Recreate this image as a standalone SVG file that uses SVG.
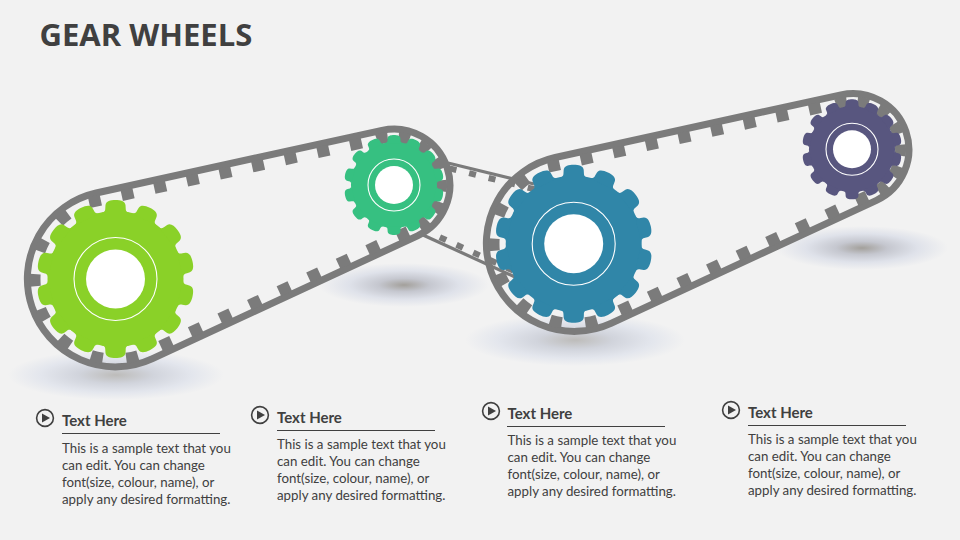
<svg xmlns="http://www.w3.org/2000/svg" xmlns:xlink="http://www.w3.org/1999/xlink" width="960" height="540" viewBox="0 0 960 540">
<style>
.title{font:700 31px "Open Sans",sans-serif;fill:#404040}
.h{font:700 15px "Lato","Open Sans",sans-serif;fill:#404040}
.b{font:400 13.3px "Lato","Open Sans",sans-serif;fill:#404040}
.rule{stroke:#404040;stroke-width:1;fill:none}
.ico{fill:none;stroke:#404040;stroke-width:1.6}
.tri{fill:#404040}
.band{fill:none;stroke:#7b7b7b;stroke-width:7}
.thin{fill:none;stroke:#7b7b7b;stroke-width:3.2}
.tooth{fill:none;stroke:#7b7b7b;stroke-width:11}
.tooth-s{fill:none;stroke:#7b7b7b;stroke-width:6}
.hole{fill:#fff}
.ring{fill:none;stroke:#fff;stroke-width:1.1}
</style>
<defs>
<radialGradient id="sh"><stop offset="0" stop-color="#a3a09b"/><stop offset=".3" stop-color="#c5c7cf"/><stop offset=".65" stop-color="#dfe2ea"/><stop offset="1" stop-color="#f2f2f2"/></radialGradient>
<radialGradient id="sh2"><stop offset="0" stop-color="#bdbcba"/><stop offset=".35" stop-color="#d1d4dc"/><stop offset=".7" stop-color="#e3e6ed"/><stop offset="1" stop-color="#f2f2f2"/></radialGradient>
<path id="t" d="M-14 -66C-11 -67 -10.2 -68 -10.2 -71L-10 -74C-9.5 -78 -5 -79 0 -79C5 -79 9.5 -78 10 -74L10.2 -71C10.2 -68 11 -67 14 -66Z"/>
<g id="gear">
<circle r="68"/>
<use href="#t"/>
<use href="#t" transform="rotate(25.714)"/>
<use href="#t" transform="rotate(51.429)"/>
<use href="#t" transform="rotate(77.143)"/>
<use href="#t" transform="rotate(102.857)"/>
<use href="#t" transform="rotate(128.571)"/>
<use href="#t" transform="rotate(154.286)"/>
<use href="#t" transform="rotate(180)"/>
<use href="#t" transform="rotate(205.714)"/>
<use href="#t" transform="rotate(231.429)"/>
<use href="#t" transform="rotate(257.143)"/>
<use href="#t" transform="rotate(282.857)"/>
<use href="#t" transform="rotate(308.571)"/>
<use href="#t" transform="rotate(334.286)"/>
</g>
<g id="belt">
<path class="band" d="M96.2 193L382 130.3A56 56 0 0 1 417.5 235.8L152 358.9A88 88 0 1 1 96.2 193Z"/>
<path class="tooth" stroke-dasharray="12 21.4" d="M89.1 202.7L362 142.9"/>
<path class="tooth" stroke-dasharray="12 20.6" d="M160.6 346L408 231.5"/>
<path class="tooth" stroke-dasharray="12 23.4" d="M137.9 355.7A80 80 0 0 1 68.7 213.8"/>
<path class="tooth" stroke-dasharray="11 10.78" d="M377.1 140.1A48 48 0 0 1 419 225.9"/>
</g>
</defs>
<rect width="960" height="540" fill="#f2f2f2"/>
<text class="title" x="39.5" y="46">GEAR WHEELS</text>
<g id="shadows">
<ellipse cx="116" cy="375" rx="108" ry="25" fill="url(#sh2)"/>
<ellipse cx="404" cy="285" rx="85" ry="22" fill="url(#sh)"/>
<ellipse cx="575" cy="340" rx="110" ry="26" fill="url(#sh2)"/>
<ellipse cx="862" cy="248" rx="86" ry="22" fill="url(#sh)"/>
</g>
<g id="connectors">
<path class="thin" d="M448 163L534 184"/>
<path class="tooth-s" stroke-dasharray="7 13.1" d="M449.6 168.4L536 189.6"/>
<path class="thin" d="M423 235L515 277"/>
<path class="tooth-s" stroke-dasharray="7 11.4" d="M439.8 237.2L514 271"/>
<use href="#belt"/>
<use href="#belt" transform="translate(459 -35.5)"/>
</g>
<g id="gear-green"><use href="#gear" fill="#8ad128" transform="translate(115.5 279)"/><circle class="hole" cx="115.5" cy="279" r="29.5"/><circle class="ring" cx="115.5" cy="279" r="41.5"/></g>
<g id="gear-mint"><use href="#gear" fill="#36c081" transform="translate(394 185) scale(.633)"/><circle class="hole" cx="394" cy="185" r="19"/><circle class="ring" cx="394" cy="185" r="26"/></g>
<g id="gear-teal"><use href="#gear" fill="#3086a8" transform="translate(573.7 243.7)"/><circle class="hole" cx="573.7" cy="243.7" r="29.5"/><circle class="ring" cx="573.7" cy="243.7" r="41.5"/></g>
<g id="gear-purple"><use href="#gear" fill="#58567f" transform="translate(852 149.3) scale(.633)"/><circle class="hole" cx="852" cy="149.3" r="19"/><circle class="ring" cx="852" cy="149.3" r="26"/></g>
<g id="note-1">
<circle class="ico" cx="45" cy="418" r="8.4"/><path class="tri" d="M42 413.5L50 418L42 422.5Z"/>
<text class="h" x="62" y="426">Text Here</text><path class="rule" d="M62 433.5H220"/>
<text class="b" x="62" y="453">This is a sample text that you</text><text class="b" x="62" y="470">can edit. You can change</text><text class="b" x="62" y="487">font(size, colour, name), or</text><text class="b" x="62" y="504">apply any desired formatting.</text>
</g>
<g id="note-2">
<circle class="ico" cx="260" cy="415" r="8.4"/><path class="tri" d="M257 410.5L265 415L257 419.5Z"/>
<text class="h" x="277" y="423">Text Here</text><path class="rule" d="M277 430.5H435"/>
<text class="b" x="277" y="449">This is a sample text that you</text><text class="b" x="277" y="466">can edit. You can change</text><text class="b" x="277" y="483">font(size, colour, name), or</text><text class="b" x="277" y="500">apply any desired formatting.</text>
</g>
<g id="note-3">
<circle class="ico" cx="491" cy="411" r="8.4"/><path class="tri" d="M488 406.5L496 411L488 415.5Z"/>
<text class="h" x="507.5" y="419">Text Here</text><path class="rule" d="M507 426.5H665"/>
<text class="b" x="507.5" y="445">This is a sample text that you</text><text class="b" x="507.5" y="462">can edit. You can change</text><text class="b" x="507.5" y="479">font(size, colour, name), or</text><text class="b" x="507.5" y="496">apply any desired formatting.</text>
</g>
<g id="note-4">
<circle class="ico" cx="731" cy="410" r="8.4"/><path class="tri" d="M728 405.5L736 410L728 414.5Z"/>
<text class="h" x="748" y="418">Text Here</text><path class="rule" d="M748 425.5H906"/>
<text class="b" x="748" y="444">This is a sample text that you</text><text class="b" x="748" y="461">can edit. You can change</text><text class="b" x="748" y="478">font(size, colour, name), or</text><text class="b" x="748" y="495">apply any desired formatting.</text>
</g>
</svg>
